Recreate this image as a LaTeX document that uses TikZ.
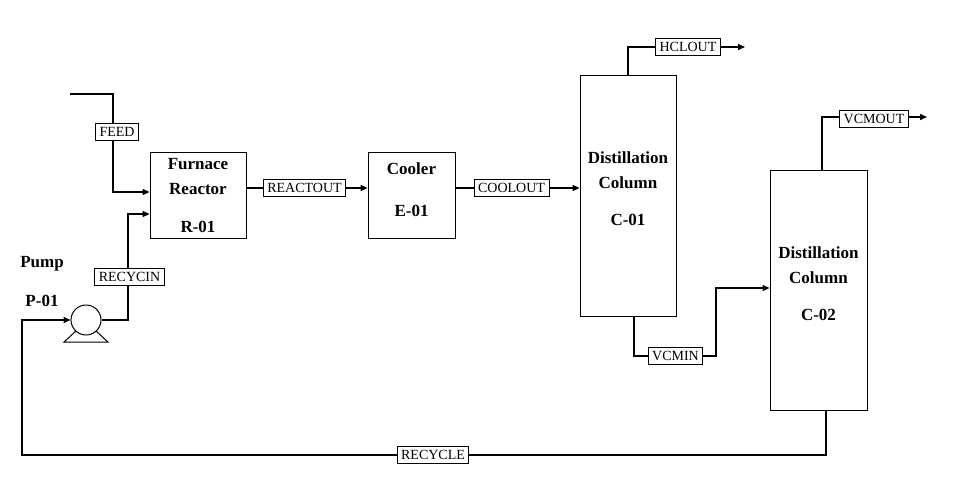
\documentclass[tikz,border=0pt]{standalone}
\usepackage{fontspec}
\setmainfont{Liberation Serif}
\usetikzlibrary{arrows.meta}
\begin{document}
\begin{tikzpicture}[x=1pt,y=-1pt,
  line width=1.5pt, >={Triangle[length=7pt,width=6pt]},
  unit/.style={draw,line width=0.8pt,fill=white,inner sep=0pt},
  lab/.style={draw,line width=0.8pt,fill=white,font=\fontsize{14}{15}\selectfont,inner ysep=1.5pt,inner xsep=4pt,minimum height=17pt},
  tt/.style={font=\fontsize{17}{25}\bfseries\selectfont,align=center}]
\useasboundingbox (0,0) rectangle (964,501);
% units
\node[unit,minimum width=96pt,minimum height=86pt] (R) at (198,195) {};
\node[tt] at (198,177) {Furnace\\Reactor};
\node[tt] at (198,227) {R-01};
\node[unit,minimum width=87pt,minimum height=86pt] (E) at (411.5,195) {};
\node[tt] at (411.5,169) {Cooler};
\node[tt] at (411.5,211) {E-01};
\node[unit,minimum width=96pt,minimum height=241pt] (C1) at (628,195.5) {};
\node[tt] at (628,170) {Distillation\\Column};
\node[tt] at (628,220) {C-01};
\node[unit,minimum width=97pt,minimum height=240pt] (C2) at (818.5,290) {};
\node[tt] at (818.5,265) {Distillation\\Column};
\node[tt] at (818.5,315) {C-02};
\node[tt] at (42,264) {Pump};
\node[tt] at (42,301) {P-01};
% pump
\node[draw,circle,line width=1pt,minimum size=30pt,inner sep=0pt] (P) at (86,320) {};
\draw[line width=1pt] (76,331) -- (64,342) -- (108,342) -- (96,331);
% coordinates
\coordinate (f0) at (70,94);
\coordinate (h1) at (745,47);
\coordinate (v1) at (927,117);
% streams
\draw[->] (f0) -- (113,94) -- (113,192) -- (R.west|-0,192);
\draw[->] (R.east|-0,188) -- (E.west|-0,188);
\draw[->] (E.east|-0,188) -- (C1.west|-0,188);
\draw[->] (628,75) -- (628,47) -- (h1);
\draw[->] (634,316) -- (634,356) -- (716,356) -- (716,288) -- (C2.west|-0,288);
\draw[->] (822,170) -- (822,117) -- (v1);
\draw[->] (826,410) -- (826,455) -- (22,455) -- (22,320) -- (P.west);
\draw[->] (P.east) -- (128,320) -- (128,214) -- (R.west|-0,214);
% labels
\node[lab] (lf) at (117,132) {FEED};
\node[lab] (lr) at (304.5,188) {REACTOUT};
\node[lab] (lc) at (511.5,188) {COOLOUT};
\node[lab] (lh) at (688,47) {HCLOUT};
\node[lab] (lv) at (675.5,356) {VCMIN};
\node[lab] (lvo) at (874,119) {VCMOUT};
\node[lab] (lre) at (433,455) {RECYCLE};
\node[lab] (lri) at (129.5,277) {RECYCIN};
\end{tikzpicture}
\end{document}
